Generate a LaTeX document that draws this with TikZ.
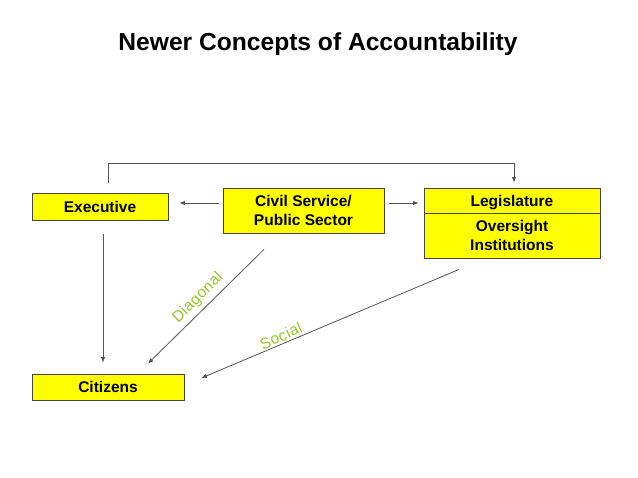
\documentclass[tikz,border=0pt]{standalone}
\usepackage{fontspec}
\setmainfont{Liberation Sans}
\usetikzlibrary{arrows.meta,calc}
\definecolor{boxfill}{RGB}{255,255,0}
\definecolor{boxline}{RGB}{70,70,70}
\definecolor{conncol}{RGB}{85,85,85}
\definecolor{lblgreen}{RGB}{150,200,45}
\tikzset{
  ybox/.style={draw=boxline, fill=boxfill, line width=0.9pt, inner sep=0pt, align=center,
    font=\fontsize{15.5}{19}\selectfont\bfseries},
  conn/.style={draw=conncol, line width=0.8pt, -{Latex[length=5.5pt,width=4.5pt]}},
  lbl/.style={text=lblgreen, inner sep=1pt, font=\fontsize{15.5}{17}\selectfont\addfontfeature{LetterSpace=3}}
}
\begin{document}
\begin{tikzpicture}[x=1pt,y=-1pt]
\useasboundingbox[fill=white] (0,0) rectangle (638,478);
\node[font=\fontsize{24.6}{28}\selectfont\bfseries, anchor=base] (title) at (318,51) {Newer Concepts of Accountability};

\node[ybox, minimum width=136pt, minimum height=27pt] (exec) at (100,206.5) {Executive};
\node[ybox, minimum width=161pt, minimum height=45pt] (civil) at (303.5,210.5) {Civil Service/\\Public Sector};
\node[ybox, minimum width=176pt, minimum height=25pt, text height=11.5pt, text depth=0pt] (legis) at (512,200.5) {Legislature};
\node[ybox, minimum width=176pt, minimum height=45pt] (overs) at (512,235.5) {Oversight\\Institutions};
\node[ybox, minimum width=152pt, minimum height=26pt] (citiz) at (108,387) {Citizens};

% bracket on top
\coordinate (bl) at ($(exec.north)+(8,-10)$);
\coordinate (br) at ($(legis.north)+(2,-5)$);
\draw[conn] (bl) |- (108,163) -| (br);

% horizontal arrows
\draw[conn] ($(civil.west)+(-4,-7.5)$) -- ($(exec.east)+(11,-3.5)$);
\draw[conn] ($(civil.east)+(5,-7.5)$) -- ($(legis.west)+(-5,2.5)$);

% down arrows
\draw[conn] ($(exec.south)+(3,14)$) -- ($(citiz.north)+(-5,-11)$);
\draw[conn] ($(civil.south)+(-39.5,16)$) -- ($(citiz.north)+(40,-10)$) ;
\draw[conn] ($(overs.south)+(-53,11)$) -- ($(citiz.east)+(17,-9)$);

% labels
\node[lbl, rotate=45.5] (diag) at (198,298) {Diagonal};
\node[lbl, rotate=25] (soc) at (281,336) {Social};
\end{tikzpicture}
\end{document}
